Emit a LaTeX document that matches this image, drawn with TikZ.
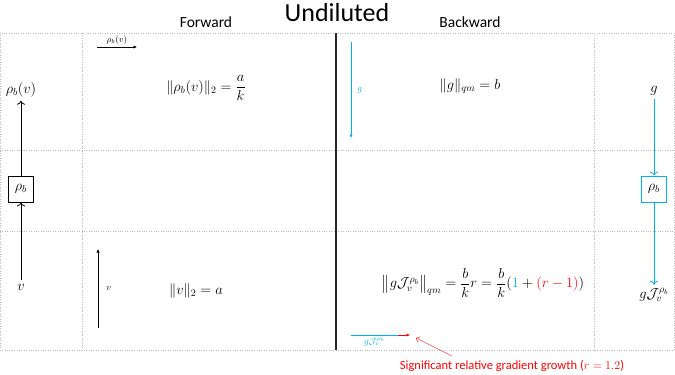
\documentclass[tikz,border=0pt]{standalone}
\usepackage{amsmath}
\usepackage{fontspec}
\setmainfont{Carlito}
\usetikzlibrary{arrows.meta}
\definecolor{gradblue}{RGB}{0,176,240}
\definecolor{growred}{RGB}{255,0,0}
\tikzset{
  grid line/.style={gray!55, dotted, thin},
  opbox/.style={draw, thick, minimum width=25pt, minimum height=26pt, inner sep=1pt},
  flow/.style={-{To[length=4pt,width=8pt]}, thick},
  small flow/.style={-{Latex[length=3.5pt,width=3.5pt]}, thick},
  formula/.style={font=\fontsize{14}{16}\selectfont},
  tag/.style={font=\fontsize{9}{10}\selectfont},
}
\begin{document}
\begin{tikzpicture}[x=1pt,y=-1pt]
    \useasboundingbox (0,0) rectangle (675,375);

    % dotted grid and the middle divider
    \draw[grid line] (0,33) rectangle (674,350);
    \draw[grid line] (0,150) -- (674,150);
    \draw[grid line] (0,231) -- (674,231);
    \draw[grid line] (82,33) -- (82,350);
    \draw[grid line] (594,33) -- (594,350);
    \draw[line width=1.6pt, black!85] (336,33) -- (336,350);

    \node[font=\fontsize{26}{28}\selectfont] (title) at (337,13) {Undiluted};
    \node[font=\fontsize{15.5}{17}\selectfont] (fwd) at (206,22) {Forward};
    \node[font=\fontsize{15.5}{17}\selectfont] (bwd) at (470,22) {Backward};

    % forward path
    \node[formula] (rhov) at (21,90) {$\rho_b(v)$};
    \node[opbox, formula] (rhoL) at (21,189) {$\rho_b$};
    \node[formula] (vin) at (21,287) {$v$};
    \draw[flow] (vin) -- (rhoL);
    \draw[flow] (rhoL) -- (rhov);

    \coordinate (fs) at (97,47);
    \coordinate (fe) at (137,47);
    \draw[small flow] (fs) -- (fe) node[midway, above, tag, inner sep=2pt] {$\rho_b(v)$};
    \node[formula] (normout) at (206,88) {$\lVert\rho_b(v)\rVert_2 = \dfrac{a}{k}$};

    \coordinate (vs) at (98,328);
    \coordinate (ve) at (98,249);
    \draw[small flow] (vs) -- (ve) node[midway, right, tag, inner sep=8pt] {$v$};
    \node[formula] (normin) at (196,291) {$\lVert v\rVert_2 = a$};

    % backward path
    \coordinate (gs) at (351,42);
    \coordinate (ge) at (351,138);
    \draw[small flow, gradblue] (gs) -- (ge) node[midway, right, tag, text=gradblue, inner sep=6pt] {$g$};
    \node[formula] (normg) at (470,86) {$\lVert g\rVert_{qm} = b$};

    \node[formula] (gin) at (654,91) {$g$};
    \node[opbox, formula, draw=gradblue] (rhoR) at (654,189) {$\rho_b$};
    \node[formula] (gout) at (654,295) {$g\mathcal{J}_v^{\rho_b}$};
    \draw[flow, gradblue] (gin) -- (rhoR);
    \draw[flow, gradblue] (rhoR) -- (gout);

    \node[formula] (normgj) at (483,283)
      {$\bigl\lVert g\mathcal{J}_v^{\rho_b}\bigr\rVert_{qm} = \dfrac{b}{k}r = \dfrac{b}{k}(\textcolor{gradblue}{1} + \textcolor{growred}{(r-1)})$};

    % growth of the gradient
    \coordinate (js) at (351,335);
    \coordinate (jm) at (398,335);
    \coordinate (je) at (410,335);
    \draw[thick, gradblue] (js) -- (jm) node[midway, below, tag, text=gradblue, inner sep=2.5pt] {$g\mathcal{J}_v^{\rho_b}$};
    \draw[small flow, growred] (jm) -- (je);

    \node[font=\fontsize{12.5}{14}\selectfont, text=growred] (note) at (512,366)
      {Significant relative gradient growth ($r = 1.2$)};
    \coordinate (notetip) at (452,356);
    \coordinate (growth) at (416,338);
    \draw[-{Straight Barb[length=3pt]}, growred, thin] (notetip) -- (growth);
\end{tikzpicture}
\end{document}
